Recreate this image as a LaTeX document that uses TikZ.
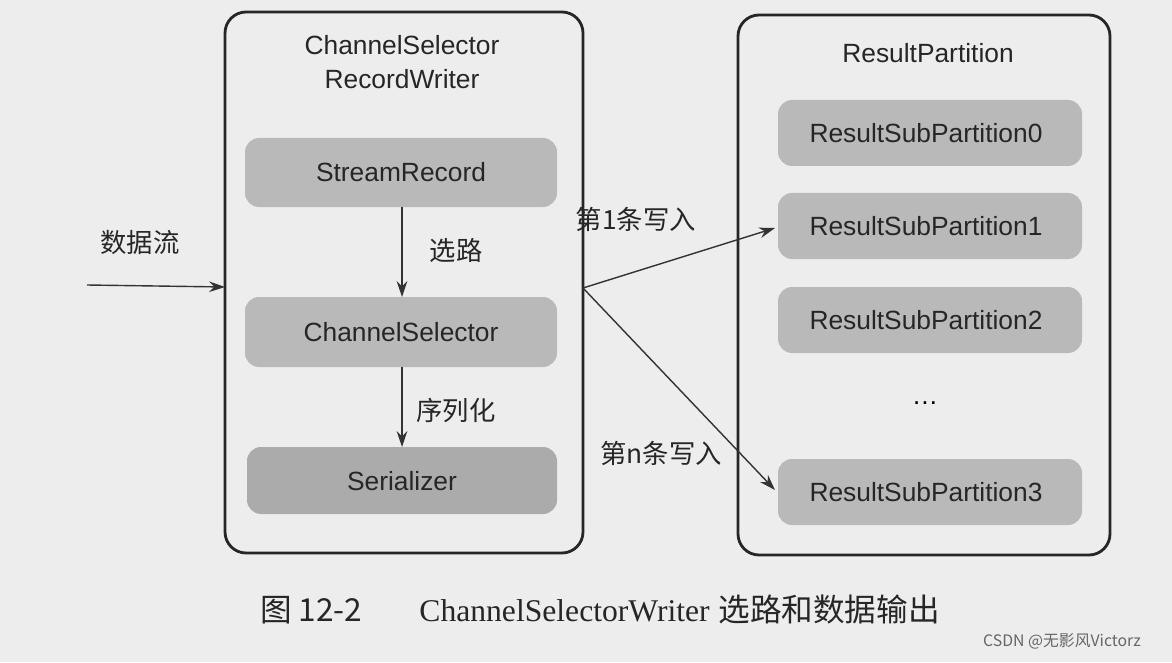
\documentclass[tikz,border=0pt]{standalone}
\usepackage{fontspec}
\setmainfont{Liberation Sans}
\newfontfamily\cjk{Noto Sans CJK SC}
\newfontfamily\serifl{Liberation Serif}
\usetikzlibrary{arrows.meta}
\definecolor{bg}{HTML}{EDEDED}
\definecolor{boxg}{HTML}{B9B9B9}
\definecolor{boxd}{HTML}{ABABAB}
\tikzset{
 outer/.style={draw=black!85,line width=1.6pt,rounded corners=12pt},
 inner/.style={fill=boxg,rounded corners=8pt,font=\fontsize{15}{17}\selectfont,text=black!85},
 lbl/.style={font=\cjk\fontsize{15}{17}\selectfont,text=black!85},
 arr/.style={-{Stealth[length=9pt,width=6pt]},line width=0.8pt,draw=black!80}
}
\begin{document}
\begin{tikzpicture}[x=0.02cm,y=-0.02cm]
\fill[bg] (0,0) rectangle (1172,662);
\useasboundingbox (0,0) rectangle (1172,662);
% left box
\draw[outer] (225,12) rectangle (583,553);
\node[font=\fontsize{15}{19}\selectfont,align=center,text=black!85] (lt) at (402,62) {ChannelSelector\\RecordWriter};
\path[inner] (245,138) rectangle (557,207);
\node[font=\fontsize{15}{17}\selectfont,text=black!85] (sr) at (401,172) {StreamRecord};
\path[inner] (245,297) rectangle (557,367);
\node[font=\fontsize{15}{17}\selectfont,text=black!85] (cs) at (401,332) {ChannelSelector};
\path[inner,fill=boxd] (247,447) rectangle (557,514);
\node[font=\fontsize{15}{17}\selectfont,text=black!85] (se) at (402,481) {Serializer};
\coordinate (srb) at (402,207); \coordinate (cst) at (402,297);
\coordinate (csb) at (402,367); \coordinate (set) at (402,447);
\draw[arr] (srb) -- (cst);
\draw[arr] (csb) -- (set);
\node[lbl] at (456,250) {选路};
\node[lbl] at (456,410) {序列化};
\node[lbl] at (140,243) {数据流};
\coordinate (in0) at (87,285); \coordinate (in1) at (225,287);
\draw[arr] (in0) -- (in1);
% right box
\draw[outer] (738,15) rectangle (1110,555);
\node[font=\fontsize{15}{17}\selectfont,text=black!85] at (928,53) {ResultPartition};
\foreach \n/\y/\t in {a/133/0,b/226/1,c/320/2,d/492/3}{
 \path[inner] (778,\y-33) rectangle (1082,\y+33);
 \node[font=\fontsize{15}{17}\selectfont,text=black!85] (p\n) at (926,\y) {ResultSubPartition\t};
}
\node[font=\fontsize{15}{17}\selectfont] at (925,403) {\dots};
\coordinate (o) at (583,288);
\coordinate (tb) at (775,228); \coordinate (td) at (775,490);
\draw[arr] (o) -- (tb);
\draw[arr] (o) -- (td);
\node[lbl] at (636,219) {第1条写入};
\node[lbl] at (661,453) {第n条写入};
% caption
\node[font=\fontsize{18}{20}\selectfont,text=black!85] at (600,609) {{\cjk 图 12-2}\hspace{1.8em}{\serifl ChannelSelectorWriter} {\cjk 选路和数据输出}};
\node[font=\cjk\fontsize{9}{11}\selectfont,text=black!60] at (1062,641) {CSDN @无影风Victorz};
\end{tikzpicture}
\end{document}
